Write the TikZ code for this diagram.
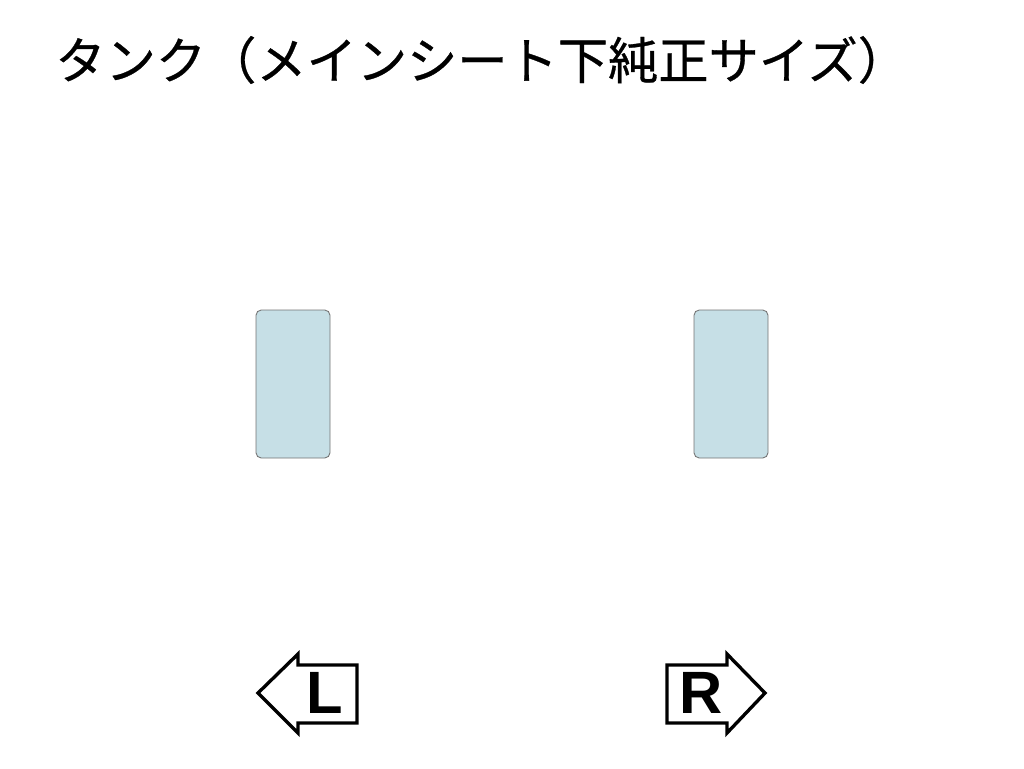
\documentclass[tikz,border=0pt]{standalone}
\usepackage{fontspec}
\setmainfont{Liberation Sans}
\newfontfamily\jpfont[FakeBold=0.6]{Noto Sans CJK JP}
\begin{document}
\begin{tikzpicture}[x=0.02cm,y=-0.02cm,
  tank/.style={draw=black!55,line width=0.5pt,fill=tankblue,rounded corners=3pt},
  lrarrow/.style={draw=black,line width=1.9pt,fill=white,line join=miter},
  letter/.style={font=\fontsize{34}{34}\selectfont\bfseries,inner sep=0pt}]
\definecolor{tankblue}{HTML}{C6DFE6}
\useasboundingbox (0,0) rectangle (1024,768);
\node[anchor=west,inner sep=0pt,font=\jpfont\fontsize{28.6}{29}\selectfont] (title) at (55,60) {タンク（メインシート下純正サイズ）};
\draw[tank] (256,310) rectangle (330,458);
\draw[tank] (694,310) rectangle (768,458);
% L arrow
\draw[lrarrow] (258,693) -- (298,654) -- (298,665) -- (357,665) -- (357,723) -- (298,723) -- (298,733) -- cycle;
\node[letter] (L) at (325,693) {L};
% R arrow
\draw[lrarrow] (765,693) -- (727,654) -- (727,665) -- (667,665) -- (667,723) -- (727,723) -- (727,733) -- cycle;
\node[letter] (R) at (701,693) {R};
\end{tikzpicture}
\end{document}
